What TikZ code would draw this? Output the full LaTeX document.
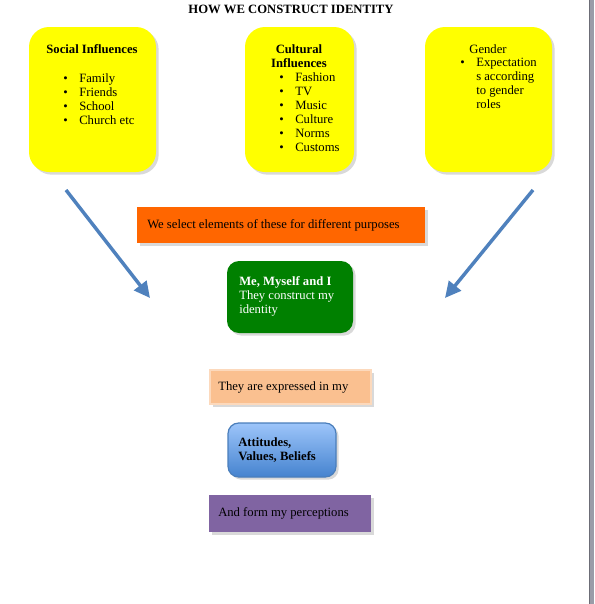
\documentclass[tikz,border=0pt]{standalone}
\usepackage{fontspec}
\setmainfont{Liberation Serif}
\usetikzlibrary{arrows.meta,shadows}

\definecolor{boxyellow}{HTML}{FFFF00}
\definecolor{boxorange}{HTML}{FF6600}
\definecolor{boxgreen}{HTML}{008000}
\definecolor{boxpeach}{HTML}{FAC090}
\definecolor{peachedge}{HTML}{FCD9BC}
\definecolor{bluetop}{HTML}{9DC5FA}
\definecolor{bluebot}{HTML}{4583CF}
\definecolor{blueedge}{HTML}{4A7EBB}
\definecolor{boxpurple}{HTML}{8064A2}
\definecolor{arrowblue}{HTML}{4F81BD}
\definecolor{pagegray}{HTML}{9A9CA8}

\newcommand{\bitem}[1]{\makebox[12pt][l]{\textbullet}#1}

\tikzset{
  shade box/.style={drop shadow={shadow xshift=2pt,shadow yshift=-2pt,opacity=0.3}},
  txt/.style={inner sep=0pt,anchor=north west,align=left,font=\fontsize{9.5}{10.5}\selectfont},
  flowarrow/.style={draw=arrowblue,line width=2.6pt,-{Triangle[length=12pt,width=11.5pt]}}
}

\begin{document}
\begin{tikzpicture}[x=0.75pt,y=0.75pt,yscale=-1,xscale=1]
\useasboundingbox (0,0) rectangle (594,604);

%Shape: Page edge
\fill [pagegray] (589,0) rectangle (594,604);
\draw [pagegray!70!black,line width=0.6pt] (589,0) -- (589,604);

%Rounded Rect: Social
\draw [shade box,fill=boxyellow,draw=none,rounded corners=15pt] (29,27) rectangle (156,172);
%Rounded Rect: Cultural
\draw [shade box,fill=boxyellow,draw=none,rounded corners=15pt] (245,27) rectangle (354,172);
%Rounded Rect: Gender
\draw [shade box,fill=boxyellow,draw=none,rounded corners=15pt] (425,27) rectangle (552,172);
%Shape: Rectangle orange
\draw [shade box,fill=boxorange,draw=none] (137,207) rectangle (425,243);
%Rounded Rect: Me
\draw [shade box,fill=boxgreen,draw=none,rounded corners=9pt] (227,261) rectangle (353,333);
%Shape: Rectangle peach
\draw [shade box,fill=boxpeach,draw=peachedge,line width=1.5pt] (210,370) rectangle (371,404);
%Rounded Rect: Attitudes
\draw [shade box,top color=bluetop,bottom color=bluebot,draw=blueedge,line width=0.9pt,rounded corners=8pt] (228,423) rectangle (336,477);
%Shape: Rectangle purple
\draw [shade box,fill=boxpurple,draw=none] (209,495) rectangle (371,532);

%Arrows
\coordinate (lfrom) at (66,190);
\coordinate (lto) at (150,298);
\coordinate (rfrom) at (533,190);
\coordinate (rto) at (445,298);
\draw [flowarrow] (lfrom) -- (lto);
\draw [flowarrow] (rfrom) -- (rto);

% Text Node
\node (title) at (291,9.5) [font=\fontsize{9.5}{10.5}\selectfont\bfseries] {HOW WE CONSTRUCT IDENTITY};
% Text Node
\node (socialhead) at (92,44) [txt,anchor=north,font=\fontsize{9.5}{10.5}\selectfont\bfseries] {Social Influences};
% Text Node
\node (sociallist) at (63,73) [txt] {\bitem{Family}\\\bitem{Friends}\\\bitem{School}\\\bitem{Church etc}};
% Text Node
\node (culturehead) at (299,44) [txt,anchor=north,align=center,font=\fontsize{9.5}{10.5}\selectfont\bfseries] {Cultural\\Influences};
% Text Node
\node (culturelist) at (279,72) [txt] {\bitem{Fashion}\\\bitem{TV}\\\bitem{Music}\\\bitem{Culture}\\\bitem{Norms}\\\bitem{Customs}};
% Text Node
\node (genderhead) at (488,44) [txt,anchor=north] {Gender};
% Text Node
\node (genderlist) at (460,58) [txt] {\bitem{Expectation}\\\hspace*{12pt}s according\\\hspace*{12pt}to gender\\\hspace*{12pt}roles};
% Text Node
\node (select) at (147,219) [txt] {We select elements of these for different purposes};
% Text Node
\node (me) at (239,276) [txt,text=white] {\textbf{Me, Myself and I}\\They construct my\\identity};
% Text Node
\node (expressed) at (218,381) [txt] {They are expressed in my};
% Text Node
\node (attitudes) at (238,437) [txt,font=\fontsize{9.5}{10.5}\selectfont\bfseries] {Attitudes,\\Values, Beliefs};
% Text Node
\node (perceptions) at (218,507) [txt] {And form my perceptions};

\end{tikzpicture}
\end{document}
